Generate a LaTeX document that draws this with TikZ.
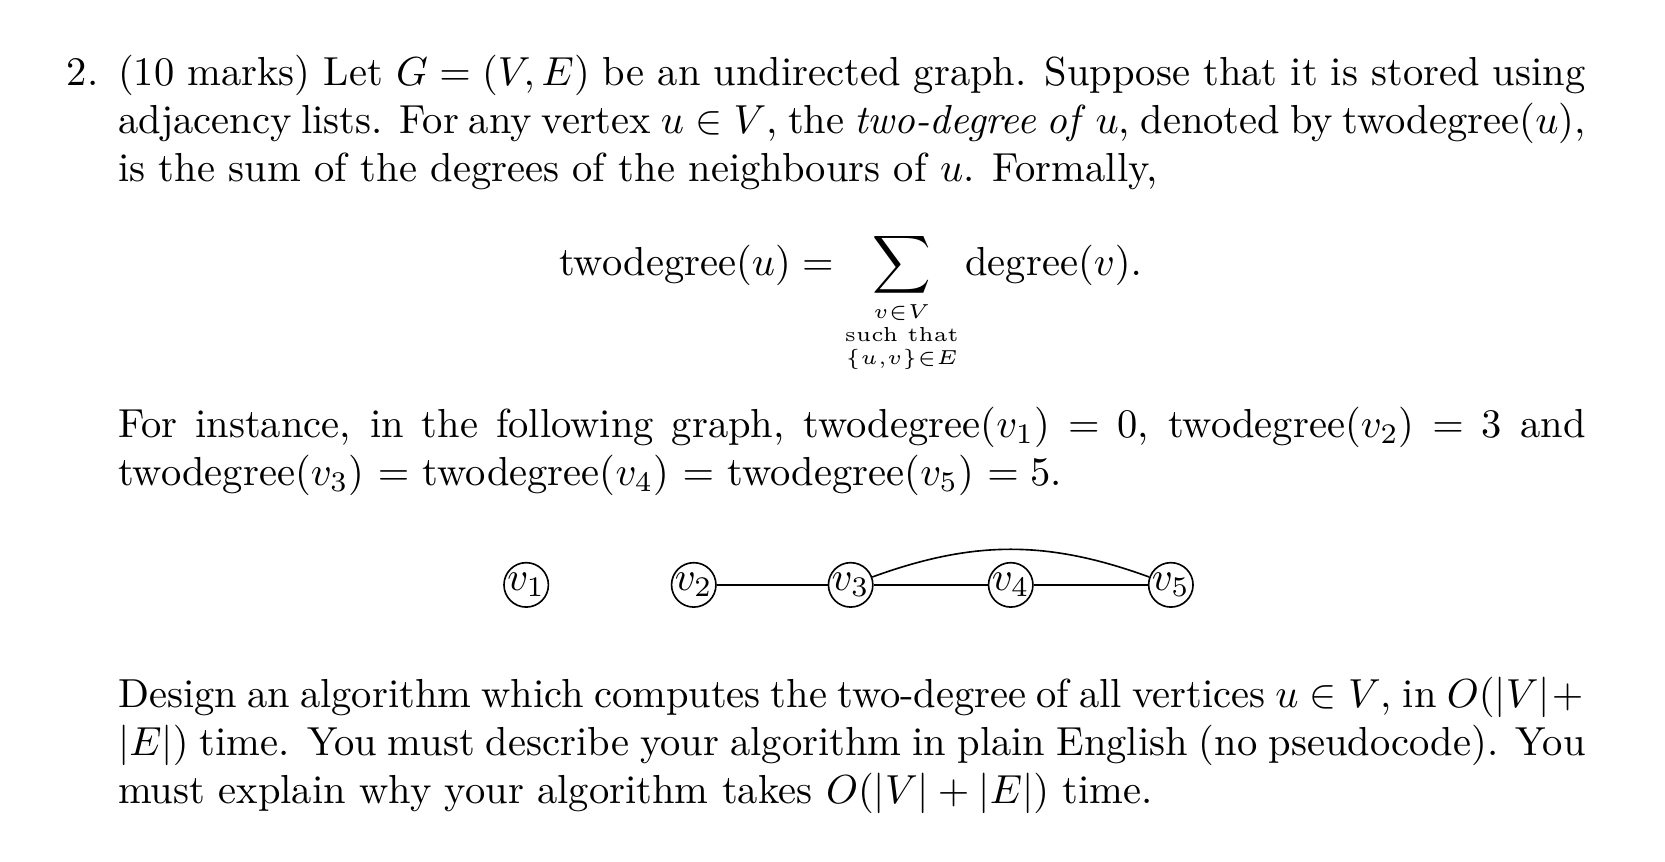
\documentclass[tikz,border=0pt]{standalone}
\usepackage{amsmath}
\newcommand{\jl}[1]{\makebox[362pt][s]{#1}}
\begin{document}
\begin{tikzpicture}[x=0.2633pt,y=-0.2633pt,
  txt/.style={anchor=base west,inner sep=0pt},
  vert/.style={circle,draw,minimum size=10.3pt,inner sep=0pt},
  edge/.style={draw,thin}]
\useasboundingbox (0,0) rectangle (1560,807);
\node[txt] (num) at (62,80) {2.};
\node[txt] (l1) at (110,80) {\jl{(10 marks) Let $G=(V,E)$ be an undirected graph. Suppose that it is stored using}};
\node[txt] (l2) at (110,125) {\jl{adjacency lists. For any vertex $u\in V$, the \emph{two-degree of} $u$, denoted by twodegree($u$),}};
\node[txt] (l3) at (110,170) {is the sum of the degrees of the neighbours of $u$. Formally,};
\node[anchor=base,inner sep=0pt] (eq) at (797,258) {$\displaystyle \text{twodegree}(u)=\sum_{\substack{\scriptscriptstyle v\in V\\ \scriptscriptstyle\text{such that}\\ \scriptscriptstyle \{u,v\}\in E}}\text{degree}(v).$};
\node[txt] (l4) at (110,410) {\jl{For instance, in the following graph, twodegree($v_1$) $=$ 0, twodegree($v_2$) $=$ 3 and}};
\node[txt] (l5) at (110,455) {twodegree($v_3$) $=$ twodegree($v_4$) $=$ twodegree($v_5$) $=5$.};
\node[vert] (v1) at (493,548) {$v_1$};
\node[vert] (v2) at (650,548) {$v_2$};
\node[vert] (v3) at (797,548) {$v_3$};
\node[vert] (v4) at (947,548) {$v_4$};
\node[vert] (v5) at (1097,548) {$v_5$};
\draw[edge] (v2) -- (v3);
\draw[edge] (v3) -- (v4);
\draw[edge] (v4) -- (v5);
\draw[edge] (v3) to[out=20,in=160] (v5);
\node[txt] (l6) at (110,663) {\jl{Design an algorithm which computes the two-degree of all vertices $u\in V$, in $O(|V|+{}$}};
\node[txt] (l7) at (110,708) {\jl{$|E|)$ time. You must describe your algorithm in plain English (no pseudocode). You}};
\node[txt] (l8) at (110,753) {must explain why your algorithm takes $O(|V|+|E|)$ time.};
\end{tikzpicture}
\end{document}
